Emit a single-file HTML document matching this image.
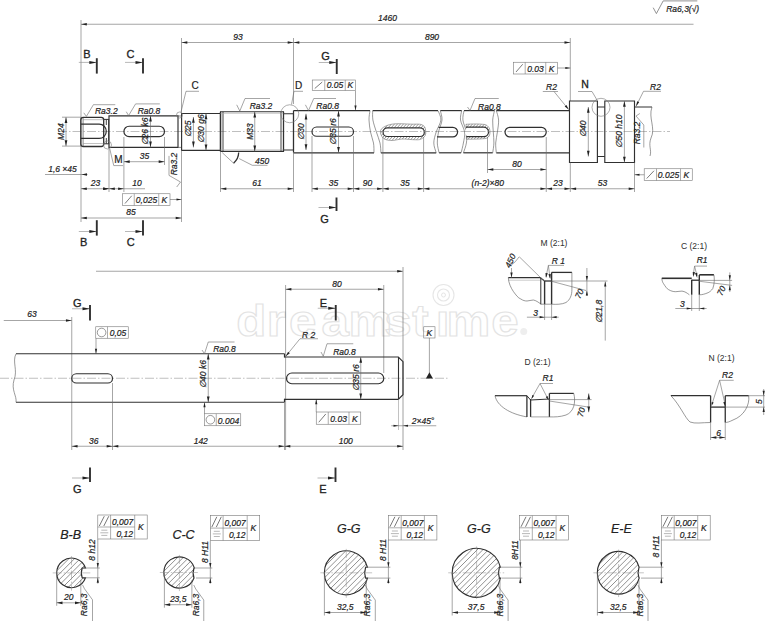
<!DOCTYPE html>
<html><head><meta charset="utf-8"><style>
html,body{margin:0;padding:0;background:#fff;}
svg{display:block;}
text{font-family:"Liberation Sans",sans-serif;}
</style></head><body>
<svg width="768" height="621" viewBox="0 0 768 621">
<rect width="768" height="621" fill="#fff"/>
<g font-family="Liberation Sans" font-weight="bold" font-size="44" fill="none" stroke="#e3e3e3" stroke-width="1.1"><text x="251.35000000000002" y="336" text-anchor="middle" transform="translate(251.35000000000002 336) scale(1.12 1) translate(-251.35000000000002 -336)">d</text><text x="276.25" y="336" text-anchor="middle" transform="translate(276.25 336) scale(1.12 1) translate(-276.25 -336)">r</text><text x="302.75" y="336" text-anchor="middle" transform="translate(302.75 336) scale(1.12 1) translate(-302.75 -336)">e</text><text x="335.225" y="336" text-anchor="middle" transform="translate(335.225 336) scale(1.12 1) translate(-335.225 -336)">a</text><text x="370.5" y="336" text-anchor="middle" transform="translate(370.5 336) scale(1.12 1) translate(-370.5 -336)">m</text><text x="398.0" y="336" text-anchor="middle" transform="translate(398.0 336) scale(1.12 1) translate(-398.0 -336)">s</text><text x="420.5" y="336" text-anchor="middle" transform="translate(420.5 336) scale(1.12 1) translate(-420.5 -336)">t</text><text x="442.5" y="336" text-anchor="middle" transform="translate(442.5 336) scale(1.12 1) translate(-442.5 -336)">ı</text><text x="468.375" y="336" text-anchor="middle" transform="translate(468.375 336) scale(1.12 1) translate(-468.375 -336)">m</text><text x="505.0" y="336" text-anchor="middle" transform="translate(505.0 336) scale(1.12 1) translate(-505.0 -336)">e</text></g>
<circle cx="443.5" cy="295" r="10.5" stroke="#e6e6e6" stroke-width="1.1" fill="none"/><circle cx="443.5" cy="295" r="6" stroke="#e6e6e6" stroke-width="1.1" fill="none"/><circle cx="443.5" cy="295" r="2" stroke="#e6e6e6" stroke-width="1" fill="none"/>
<circle cx="523.75" cy="331.5" r="3.5" fill="#eeeeee"/>
<path d="M653.2,7.7 L656.4,13.6 L663.2,0.9 L697.3,0.9" stroke="#777" stroke-width="0.8" fill="none" />
<text x="682.7" y="12" font-size="8.5" font-style="italic" text-anchor="middle" fill="#222" stroke="#222" stroke-width="0.2" font-weight="normal">Ra6,3(√)</text>
<line x1="81" y1="24.25" x2="693.5" y2="24.25" stroke="#6a6a6a" stroke-width="0.6" />
<polygon points="81.00,24.25 86.80,22.90 86.80,25.60" fill="#222"/>
<text x="387.5" y="21" font-size="8.5" font-style="italic" text-anchor="middle" fill="#222" stroke="#222" stroke-width="0.2" font-weight="normal">1460</text>
<line x1="81" y1="20" x2="81" y2="222" stroke="#6a6a6a" stroke-width="0.6" />
<line x1="181.5" y1="42.5" x2="293.5" y2="42.5" stroke="#6a6a6a" stroke-width="0.6" />
<polygon points="181.50,42.50 187.30,41.15 187.30,43.85" fill="#222"/>
<polygon points="293.50,42.50 287.70,43.85 287.70,41.15" fill="#222"/>
<text x="238" y="40" font-size="8.5" font-style="italic" text-anchor="middle" fill="#222" stroke="#222" stroke-width="0.2" font-weight="normal">93</text>
<line x1="293.5" y1="42.5" x2="570.3" y2="42.5" stroke="#6a6a6a" stroke-width="0.6" />
<polygon points="293.50,42.50 299.30,41.15 299.30,43.85" fill="#222"/>
<polygon points="570.30,42.50 564.50,43.85 564.50,41.15" fill="#222"/>
<text x="432" y="40" font-size="8.5" font-style="italic" text-anchor="middle" fill="#222" stroke="#222" stroke-width="0.2" font-weight="normal">890</text>
<line x1="181.5" y1="38" x2="181.5" y2="113" stroke="#6a6a6a" stroke-width="0.6" />
<line x1="293.5" y1="38" x2="293.5" y2="104" stroke="#6a6a6a" stroke-width="0.6" />
<line x1="570.3" y1="38" x2="570.3" y2="101" stroke="#6a6a6a" stroke-width="0.6" />
<line x1="78.8" y1="62.4" x2="96.8" y2="62.4" stroke="#888" stroke-width="0.6" />
<polygon points="96.80,62.40 89.30,63.90 89.30,60.90" fill="#222"/>
<line x1="96.8" y1="58.2" x2="96.8" y2="73.6" stroke="#303030" stroke-width="1.9" />
<text x="86.8" y="57.6" font-size="11" font-style="normal" text-anchor="middle" fill="#222" stroke="#222" stroke-width="0.3" font-weight="normal">B</text>
<line x1="125" y1="62.4" x2="143" y2="62.4" stroke="#888" stroke-width="0.6" />
<polygon points="143.00,62.40 135.50,63.90 135.50,60.90" fill="#222"/>
<line x1="143" y1="58.2" x2="143" y2="73.6" stroke="#303030" stroke-width="1.9" />
<text x="130.6" y="57.6" font-size="11" font-style="normal" text-anchor="middle" fill="#222" stroke="#222" stroke-width="0.3" font-weight="normal">C</text>
<line x1="318.75" y1="62.5" x2="336.75" y2="62.5" stroke="#888" stroke-width="0.6" />
<polygon points="336.75,62.50 329.25,64.00 329.25,61.00" fill="#222"/>
<line x1="336.75" y1="59" x2="336.75" y2="74" stroke="#303030" stroke-width="1.9" />
<text x="325.5" y="60" font-size="11" font-style="normal" text-anchor="middle" fill="#222" stroke="#222" stroke-width="0.3" font-weight="normal">G</text>
<line x1="78.8" y1="231.5" x2="96.8" y2="231.5" stroke="#888" stroke-width="0.6" />
<polygon points="96.80,231.50 89.30,233.00 89.30,230.00" fill="#222"/>
<line x1="96.8" y1="220.2" x2="96.8" y2="235.6" stroke="#303030" stroke-width="1.9" />
<text x="83.75" y="246.3" font-size="11" font-style="normal" text-anchor="middle" fill="#222" stroke="#222" stroke-width="0.3" font-weight="normal">B</text>
<line x1="125" y1="231.5" x2="143" y2="231.5" stroke="#888" stroke-width="0.6" />
<polygon points="143.00,231.50 135.50,233.00 135.50,230.00" fill="#222"/>
<line x1="143" y1="220.2" x2="143" y2="235.6" stroke="#303030" stroke-width="1.9" />
<text x="130.75" y="246.3" font-size="11" font-style="normal" text-anchor="middle" fill="#222" stroke="#222" stroke-width="0.3" font-weight="normal">C</text>
<line x1="318.5" y1="207.5" x2="336.5" y2="207.5" stroke="#888" stroke-width="0.6" />
<polygon points="336.50,207.50 329.00,209.00 329.00,206.00" fill="#222"/>
<line x1="336.5" y1="197.5" x2="336.5" y2="211" stroke="#303030" stroke-width="1.9" />
<text x="324.5" y="223" font-size="11" font-style="normal" text-anchor="middle" fill="#222" stroke="#222" stroke-width="0.3" font-weight="normal">G</text>
<line x1="58" y1="131.5" x2="670" y2="131.5" stroke="#8a8a8a" stroke-width="0.55" stroke-dasharray="9 2 1.5 2"/>
<rect x="80.8" y="117.4" width="22.90" height="29.10" rx="2.5" stroke="#303030" stroke-width="1.3" fill="none"/>
<line x1="83.1" y1="118" x2="83.1" y2="146" stroke="#555" stroke-width="0.7" />
<line x1="83.1" y1="119.7" x2="103.5" y2="119.7" stroke="#999" stroke-width="0.6" />
<line x1="83.1" y1="143.5" x2="103.5" y2="143.5" stroke="#999" stroke-width="0.6" />
<path d="M80.8,124.2 L99.2,124.2 A7.1,7.1 0 0 1 99.2,138.4 L80.8,138.4" stroke="#303030" stroke-width="1.2" fill="none" />
<line x1="103.7" y1="119.4" x2="109.2" y2="119.4" stroke="#303030" stroke-width="1.0" />
<line x1="103.7" y1="143.8" x2="109.2" y2="143.8" stroke="#303030" stroke-width="1.0" />
<line x1="106.3" y1="119.4" x2="106.3" y2="125" stroke="#303030" stroke-width="0.9" />
<line x1="106.3" y1="138" x2="106.3" y2="143.8" stroke="#303030" stroke-width="0.9" />
<line x1="108.6" y1="119.4" x2="108.6" y2="143.8" stroke="#303030" stroke-width="0.9" />
<path d="M109,115.8 L178,115.8 L178,147.4 L109,147.4 Z" stroke="#303030" stroke-width="1.15" fill="none" />
<path d="M178,116 L181.5,116 M178,147.4 L181.5,147.4" stroke="#555" stroke-width="0.7" fill="none" />
<path d="M181.6,113.5 L220.5,113.5 L220.5,150.3 L181.6,150.3 Z" stroke="#303030" stroke-width="1.15" fill="none" />
<path d="M220.5,111.8 L283.5,111.8 L283.5,151.4 L220.5,151.4 Z" stroke="#303030" stroke-width="1.1" fill="none" />
<line x1="220.5" y1="111.8" x2="220.5" y2="151.4" stroke="#303030" stroke-width="1.3" />
<line x1="223" y1="111.8" x2="223" y2="151.4" stroke="#303030" stroke-width="0.9" />
<line x1="281" y1="111.8" x2="281" y2="151.4" stroke="#303030" stroke-width="0.9" />
<line x1="283.5" y1="111.8" x2="283.5" y2="151.4" stroke="#303030" stroke-width="1.2" />
<line x1="220.5" y1="113.5" x2="283.5" y2="113.5" stroke="#aaa" stroke-width="0.5" />
<line x1="220.5" y1="149.7" x2="283.5" y2="149.7" stroke="#aaa" stroke-width="0.5" />
<path d="M283.5,113.75 L293.5,113.75 L293.5,150 L283.5,150" stroke="#303030" stroke-width="1.1" fill="none" />
<line x1="293.5" y1="110.6" x2="293.5" y2="152.6" stroke="#303030" stroke-width="1.2" />
<line x1="293.5" y1="110.6" x2="370" y2="110.6" stroke="#303030" stroke-width="1.2" />
<line x1="372.7" y1="110.6" x2="438" y2="110.6" stroke="#303030" stroke-width="1.2" />
<line x1="440.3" y1="110.6" x2="461.7" y2="110.6" stroke="#303030" stroke-width="1.2" />
<line x1="464" y1="110.6" x2="494.5" y2="110.6" stroke="#303030" stroke-width="1.2" />
<line x1="496.3" y1="110.6" x2="569.5" y2="110.6" stroke="#303030" stroke-width="1.2" />
<line x1="293.5" y1="152.8" x2="374" y2="152.8" stroke="#303030" stroke-width="1.2" />
<line x1="380.9" y1="152.8" x2="436.2" y2="152.8" stroke="#303030" stroke-width="1.2" />
<line x1="439.1" y1="152.8" x2="461.1" y2="152.8" stroke="#303030" stroke-width="1.2" />
<line x1="463.4" y1="152.8" x2="492.7" y2="152.8" stroke="#303030" stroke-width="1.2" />
<line x1="496.3" y1="152.8" x2="569.5" y2="152.8" stroke="#303030" stroke-width="1.2" />
<path d="M370.0,110.6 C369.8,112.2 368.9,116.4 369.0,120.0 C369.1,123.6 369.8,128.2 370.5,132.0 C371.2,135.8 372.9,139.5 373.5,143.0 C374.1,146.5 373.9,151.2 374.0,152.8" stroke="#555" stroke-width="0.6" fill="none" />
<path d="M372.7,110.6 C372.7,112.2 372.3,116.4 372.9,120.0 C373.5,123.6 375.2,128.2 376.4,132.0 C377.6,135.8 379.2,139.5 380.0,143.0 C380.8,146.5 380.8,151.2 380.9,152.8" stroke="#555" stroke-width="0.6" fill="none" />
<path d="M438.0,110.6 C438.5,112.2 441.2,116.4 440.9,120.0 C440.6,123.6 437.4,128.2 436.2,132.0 C435.0,135.8 433.8,139.5 433.8,143.0 C433.8,146.5 435.8,151.2 436.2,152.8" stroke="#555" stroke-width="0.6" fill="none" />
<path d="M440.3,110.6 C440.6,112.2 442.3,116.4 442.0,120.0 C441.7,123.6 439.3,128.2 438.5,132.0 C437.7,135.8 437.2,139.5 437.3,143.0 C437.4,146.5 438.8,151.2 439.1,152.8" stroke="#555" stroke-width="0.6" fill="none" />
<path d="M461.7,110.6 C461.5,112.2 460.0,116.4 460.5,120.0 C461.0,123.6 464.1,128.2 464.6,132.0 C465.1,135.8 464.0,139.5 463.4,143.0 C462.8,146.5 461.5,151.2 461.1,152.8" stroke="#555" stroke-width="0.6" fill="none" />
<path d="M464.0,110.6 C463.8,112.2 462.5,116.4 462.9,120.0 C463.3,123.6 465.8,128.2 466.4,132.0 C467.0,135.8 466.9,139.5 466.4,143.0 C465.9,146.5 463.9,151.2 463.4,152.8" stroke="#555" stroke-width="0.6" fill="none" />
<path d="M494.5,110.6 C494.2,112.2 492.9,116.4 492.7,120.0 C492.5,123.6 493.1,128.2 493.3,132.0 C493.5,135.8 494.0,139.5 493.9,143.0 C493.8,146.5 492.9,151.2 492.7,152.8" stroke="#555" stroke-width="0.6" fill="none" />
<path d="M496.3,110.6 C496.7,112.2 498.4,116.4 498.6,120.0 C498.8,123.6 497.9,128.2 497.4,132.0 C496.9,135.8 495.9,139.5 495.7,143.0 C495.5,146.5 496.2,151.2 496.3,152.8" stroke="#555" stroke-width="0.6" fill="none" />
<path d="M569.5,101 L597.4,101 L597.4,162.5 L569.5,162.5 Z" stroke="#303030" stroke-width="1.15" fill="none" />
<path d="M597.4,107 L604.8,107 M597.4,156.5 L604.8,156.5" stroke="#303030" stroke-width="1.15" fill="none" />
<path d="M604.8,101 L634.5,101 L634.5,162.5 L604.8,162.5 Z" stroke="#303030" stroke-width="1.15" fill="none" />
<line x1="634.5" y1="107" x2="652" y2="107" stroke="#303030" stroke-width="1.0" />
<path d="M652,107 C648,118 656,128 651,138 C648,146 652,150 650,156" stroke="#555" stroke-width="0.6" fill="none" />
<rect x="123.9" y="126.25" width="40.60" height="10.45" rx="5.224999999999994" stroke="#303030" stroke-width="1.2" fill="none"/>
<rect x="312" y="127" width="41.50" height="9.25" rx="4.625" stroke="#303030" stroke-width="1.2" fill="none"/>
<path d="M438.5,127.3 L452.8,127.3 A4.8,4.8 0 0 1 452.8,136.9 L437,136.9" stroke="#303030" stroke-width="1.2" fill="none" />
<rect x="505" y="127.3" width="41.25" height="9.60" rx="4.800000000000004" stroke="#303030" stroke-width="1.2" fill="none"/>
<clipPath id="bl1"><path d="M380.6,130.3 C383,126 390,124 395.9,123.75 C403,123.4 410,124.5 417.8,124.1 C422,124 425,126 425.4,129 C426,133 426,135 424.3,136.8 C422,139 420,139.8 417.8,139.8 C410,139.8 405,138.8 401.7,139.1 C397,139.5 395,140.5 392.2,140.5 C388,140.5 385,139.8 383.5,138.3 C381,136 380,133 380.6,130.3 Z"/></clipPath>
<path d="M340,145 L362,120 M343,145 L365,120 M346,145 L368,120 M349,145 L371,120 M352,145 L374,120 M355,145 L377,120 M358,145 L380,120 M361,145 L383,120 M364,145 L386,120 M367,145 L389,120 M370,145 L392,120 M373,145 L395,120 M376,145 L398,120 M379,145 L401,120 M382,145 L404,120 M385,145 L407,120 M388,145 L410,120 M391,145 L413,120 M394,145 L416,120 M397,145 L419,120 M400,145 L422,120 M403,145 L425,120 M406,145 L428,120 M409,145 L431,120 M412,145 L434,120 M415,145 L437,120 M418,145 L440,120 M421,145 L443,120 M424,145 L446,120 M427,145 L449,120 M430,145 L452,120 M433,145 L455,120 M436,145 L458,120 M439,145 L461,120 M442,145 L464,120 M445,145 L467,120 M448,145 L470,120 M451,145 L473,120 M454,145 L476,120 M457,145 L479,120 M460,145 L482,120 M463,145 L485,120 M466,145 L488,120 M469,145 L491,120 M472,145 L494,120 M475,145 L497,120 M478,145 L500,120 M481,145 L503,120 M484,145 L506,120 M487,145 L509,120 M490,145 L512,120 M493,145 L515,120 M496,145 L518,120 M499,145 L521,120 M502,145 L524,120 M505,145 L527,120 M508,145 L530,120 M511,145 L533,120 M514,145 L536,120 M517,145 L539,120" stroke="#8a8a8a" stroke-width="0.9" clip-path="url(#bl1)"/>
<path d="M380.6,130.3 C383,126 390,124 395.9,123.75 C403,123.4 410,124.5 417.8,124.1 C422,124 425,126 425.4,129 C426,133 426,135 424.3,136.8 C422,139 420,139.8 417.8,139.8 C410,139.8 405,138.8 401.7,139.1 C397,139.5 395,140.5 392.2,140.5 C388,140.5 385,139.8 383.5,138.3 C381,136 380,133 380.6,130.3 Z" stroke="#777" stroke-width="0.6" fill="none" />
<clipPath id="bl2"><path d="M466,124.3 C472,123.8 480,123.8 485,124.5 C489,126 490,129 490,132 C490,135 489,138 485,138.6 C478,139.3 472,139.2 466.4,139.2 Z"/></clipPath>
<path d="M340,145 L362,120 M343,145 L365,120 M346,145 L368,120 M349,145 L371,120 M352,145 L374,120 M355,145 L377,120 M358,145 L380,120 M361,145 L383,120 M364,145 L386,120 M367,145 L389,120 M370,145 L392,120 M373,145 L395,120 M376,145 L398,120 M379,145 L401,120 M382,145 L404,120 M385,145 L407,120 M388,145 L410,120 M391,145 L413,120 M394,145 L416,120 M397,145 L419,120 M400,145 L422,120 M403,145 L425,120 M406,145 L428,120 M409,145 L431,120 M412,145 L434,120 M415,145 L437,120 M418,145 L440,120 M421,145 L443,120 M424,145 L446,120 M427,145 L449,120 M430,145 L452,120 M433,145 L455,120 M436,145 L458,120 M439,145 L461,120 M442,145 L464,120 M445,145 L467,120 M448,145 L470,120 M451,145 L473,120 M454,145 L476,120 M457,145 L479,120 M460,145 L482,120 M463,145 L485,120 M466,145 L488,120 M469,145 L491,120 M472,145 L494,120 M475,145 L497,120 M478,145 L500,120 M481,145 L503,120 M484,145 L506,120 M487,145 L509,120 M490,145 L512,120 M493,145 L515,120 M496,145 L518,120 M499,145 L521,120 M502,145 L524,120 M505,145 L527,120 M508,145 L530,120 M511,145 L533,120 M514,145 L536,120 M517,145 L539,120" stroke="#8a8a8a" stroke-width="0.9" clip-path="url(#bl2)"/>
<path d="M466,124.3 C472,123.8 480,123.8 485,124.5 C489,126 490,129 490,132 C490,135 489,138 485,138.6 C478,139.3 472,139.2 466.4,139.2 Z" stroke="#777" stroke-width="0.6" fill="none" />
<rect x="383.1" y="127.8" width="41.2" height="8.8" rx="4.4" fill="#fff"/>
<rect x="465" y="127.2" width="23.5" height="9.4" rx="4.7" fill="#fff"/>
<rect x="383.1" y="127.8" width="41.20" height="8.70" rx="4.350000000000001" stroke="#303030" stroke-width="1.2" fill="none"/>
<path d="M466,127.2 L483.8,127.2 A4.7,4.7 0 0 1 483.8,136.6 L466.4,136.6" stroke="#303030" stroke-width="1.2" fill="none" />
<line x1="380" y1="131.5" x2="430" y2="131.5" stroke="#8a8a8a" stroke-width="0.55" stroke-dasharray="9 2 1.5 2"/>
<line x1="462" y1="131.5" x2="495" y2="131.5" stroke="#8a8a8a" stroke-width="0.55" stroke-dasharray="9 2 1.5 2"/>
<circle cx="179.5" cy="115" r="3" stroke="#777" stroke-width="0.6" fill="none"/>
<circle cx="289.75" cy="113.75" r="9" stroke="#777" stroke-width="0.6" fill="none"/>
<circle cx="107.5" cy="145" r="4" stroke="#777" stroke-width="0.6" fill="none"/>
<circle cx="601" cy="107.3" r="9" stroke="#777" stroke-width="0.6" fill="none"/>
<text x="195" y="88.8" font-size="10" font-style="normal" text-anchor="middle" fill="#222" stroke="#222" stroke-width="0.2" font-weight="normal">C</text>
<line x1="186" y1="91.3" x2="199" y2="91.3" stroke="#6a6a6a" stroke-width="0.6" />
<line x1="186" y1="91.3" x2="181" y2="112" stroke="#6a6a6a" stroke-width="0.6" />
<text x="298.5" y="88.8" font-size="10" font-style="normal" text-anchor="middle" fill="#222" stroke="#222" stroke-width="0.2" font-weight="normal">D</text>
<line x1="294" y1="91.3" x2="303" y2="91.3" stroke="#6a6a6a" stroke-width="0.6" />
<line x1="294" y1="91.3" x2="291.5" y2="104.5" stroke="#6a6a6a" stroke-width="0.6" />
<text x="585" y="87.9" font-size="10.5" font-style="normal" text-anchor="middle" fill="#222" stroke="#222" stroke-width="0.3" font-weight="normal">N</text>
<line x1="578" y1="91.5" x2="592" y2="91.5" stroke="#6a6a6a" stroke-width="0.6" />
<line x1="592" y1="91.5" x2="597" y2="100" stroke="#6a6a6a" stroke-width="0.6" />
<text x="118.5" y="162.6" font-size="10" font-style="normal" text-anchor="middle" fill="#222" stroke="#222" stroke-width="0.2" font-weight="normal">M</text>
<line x1="109.8" y1="149" x2="113.75" y2="165.6" stroke="#6a6a6a" stroke-width="0.6" />
<line x1="113.75" y1="165.6" x2="123.1" y2="165.6" stroke="#6a6a6a" stroke-width="0.6" />
<path d="M83.75,112.8 L86.4,116.4 L93.4,104.7 L115.3,104.7" stroke="#6a6a6a" stroke-width="0.6" fill="none" />
<text x="106.3" y="114" font-size="8.5" font-style="italic" text-anchor="middle" fill="#222" stroke="#222" stroke-width="0.2" font-weight="normal">Ra3.2</text>
<path d="M126.25,111.7 L128.6,115.6 L135.6,103.9 L159.8,103.9" stroke="#6a6a6a" stroke-width="0.6" fill="none" />
<text x="149" y="114" font-size="8.5" font-style="italic" text-anchor="middle" fill="#222" stroke="#222" stroke-width="0.2" font-weight="normal">Ra0.8</text>
<path d="M236.7,104.8 L239.8,111 L245,98.5 L270,98.5" stroke="#6a6a6a" stroke-width="0.6" fill="none" />
<text x="261" y="108.8" font-size="8.5" font-style="italic" text-anchor="middle" fill="#222" stroke="#222" stroke-width="0.2" font-weight="normal">Ra3.2</text>
<path d="M305.4,104.8 L308.5,110.6 L313.75,98.5 L336,98.5" stroke="#6a6a6a" stroke-width="0.6" fill="none" />
<text x="327.7" y="108.8" font-size="8.5" font-style="italic" text-anchor="middle" fill="#222" stroke="#222" stroke-width="0.2" font-weight="normal">Ra0.8</text>
<path d="M467.5,107 L470,110.5 L475,98.5 L498.75,98.5" stroke="#6a6a6a" stroke-width="0.6" fill="none" />
<text x="489.4" y="109.5" font-size="8.5" font-style="italic" text-anchor="middle" fill="#222" stroke="#222" stroke-width="0.2" font-weight="normal">Ra0.8</text>
<path d="M169,155.9 L169,175.4 L180.5,182 L176.7,187" stroke="#6a6a6a" stroke-width="0.6" fill="none" />
<text x="176.8" y="164" font-size="8.5" font-style="italic" text-anchor="middle" fill="#222" stroke="#222" stroke-width="0.2" font-weight="normal" transform="rotate(-90 176.8 164)">Ra3.2</text>
<path d="M643.8,147.5 L643.8,125 L636,116 L639.8,113.5" stroke="#6a6a6a" stroke-width="0.6" fill="none" />
<text x="640" y="133" font-size="8.5" font-style="italic" text-anchor="middle" fill="#222" stroke="#222" stroke-width="0.2" font-weight="normal" transform="rotate(-90 640 133)">Ra3.2</text>
<line x1="222.2" y1="152.6" x2="233.6" y2="163.2" stroke="#6a6a6a" stroke-width="0.6" />
<path d="M233.6,163.2 Q238.5,159 238.7,152.6" stroke="#333" stroke-width="1.3" fill="none" />
<path d="M239.2,158.6 L252.3,165.3 L267.5,165.3" stroke="#6a6a6a" stroke-width="0.6" fill="none" />
<text x="262.2" y="163.6" font-size="8.5" font-style="italic" text-anchor="middle" fill="#222" stroke="#222" stroke-width="0.2" font-weight="normal">450</text>
<text x="62.5" y="172" font-size="8.5" font-style="italic" text-anchor="middle" fill="#222" stroke="#222" stroke-width="0.2" font-weight="normal">1,6 ×45</text>
<line x1="45" y1="174.5" x2="87.5" y2="174.5" stroke="#6a6a6a" stroke-width="0.6" />
<polygon points="81.50,174.50 87.00,173.30 87.00,175.70" fill="#222"/>
<line x1="66" y1="117.2" x2="66" y2="146.1" stroke="#6a6a6a" stroke-width="0.6" />
<polygon points="66.00,117.20 67.35,123.00 64.65,123.00" fill="#222"/>
<polygon points="66.00,146.10 64.65,140.30 67.35,140.30" fill="#222"/>
<text x="64" y="131.6" font-size="8.5" font-style="italic" text-anchor="middle" fill="#222" stroke="#222" stroke-width="0.2" font-weight="normal" transform="rotate(-90 64 131.6)">M24</text>
<line x1="62" y1="117.2" x2="81" y2="117.2" stroke="#6a6a6a" stroke-width="0.6" />
<line x1="62" y1="146.1" x2="81" y2="146.1" stroke="#6a6a6a" stroke-width="0.6" />
<line x1="150.5" y1="115.6" x2="150.5" y2="147.3" stroke="#6a6a6a" stroke-width="0.6" />
<polygon points="150.50,115.60 151.85,121.40 149.15,121.40" fill="#222"/>
<polygon points="150.50,147.30 149.15,141.50 151.85,141.50" fill="#222"/>
<text x="148" y="131.5" font-size="8.5" font-style="italic" text-anchor="middle" fill="#222" stroke="#222" stroke-width="0.2" font-weight="normal" transform="rotate(-90 148 131.5)">∅26 k6</text>
<line x1="193.4" y1="117" x2="193.4" y2="147.4" stroke="#6a6a6a" stroke-width="0.6" />
<polygon points="193.40,117.00 194.75,122.80 192.05,122.80" fill="#222"/>
<polygon points="193.40,147.40 192.05,141.60 194.75,141.60" fill="#222"/>
<text x="191" y="128.8" font-size="8.5" font-style="italic" text-anchor="middle" fill="#222" stroke="#222" stroke-width="0.2" font-weight="normal" transform="rotate(-90 191 128.8)">∅25</text>
<line x1="206" y1="113.5" x2="206" y2="150.3" stroke="#6a6a6a" stroke-width="0.6" />
<polygon points="206.00,113.50 207.35,119.30 204.65,119.30" fill="#222"/>
<polygon points="206.00,150.30 204.65,144.50 207.35,144.50" fill="#222"/>
<text x="203.5" y="128.5" font-size="8.5" font-style="italic" text-anchor="middle" fill="#222" stroke="#222" stroke-width="0.2" font-weight="normal" transform="rotate(-90 203.5 128.5)">∅30  g6</text>
<line x1="254.75" y1="111.8" x2="254.75" y2="151.4" stroke="#6a6a6a" stroke-width="0.6" />
<polygon points="254.75,111.80 256.10,117.60 253.40,117.60" fill="#222"/>
<polygon points="254.75,151.40 253.40,145.60 256.10,145.60" fill="#222"/>
<text x="252.5" y="131.5" font-size="8.5" font-style="italic" text-anchor="middle" fill="#222" stroke="#222" stroke-width="0.2" font-weight="normal" transform="rotate(-90 252.5 131.5)">M33</text>
<line x1="306" y1="113.75" x2="306" y2="150" stroke="#6a6a6a" stroke-width="0.6" />
<polygon points="306.00,113.75 307.35,119.55 304.65,119.55" fill="#222"/>
<polygon points="306.00,150.00 304.65,144.20 307.35,144.20" fill="#222"/>
<text x="303.5" y="131.5" font-size="8.5" font-style="italic" text-anchor="middle" fill="#222" stroke="#222" stroke-width="0.2" font-weight="normal" transform="rotate(-90 303.5 131.5)">∅30</text>
<line x1="338.5" y1="110.6" x2="338.5" y2="152.8" stroke="#6a6a6a" stroke-width="0.6" />
<polygon points="338.50,110.60 339.85,116.40 337.15,116.40" fill="#222"/>
<polygon points="338.50,152.80 337.15,147.00 339.85,147.00" fill="#222"/>
<text x="336" y="131.5" font-size="8.5" font-style="italic" text-anchor="middle" fill="#222" stroke="#222" stroke-width="0.2" font-weight="normal" transform="rotate(-90 336 131.5)">∅35 r6</text>
<line x1="588.3" y1="107" x2="588.3" y2="156.5" stroke="#6a6a6a" stroke-width="0.6" />
<polygon points="588.30,107.00 589.65,112.80 586.95,112.80" fill="#222"/>
<polygon points="588.30,156.50 586.95,150.70 589.65,150.70" fill="#222"/>
<text x="586" y="128.7" font-size="8.5" font-style="italic" text-anchor="middle" fill="#222" stroke="#222" stroke-width="0.2" font-weight="normal" transform="rotate(-90 586 128.7)">∅40</text>
<line x1="624.4" y1="101" x2="624.4" y2="162.5" stroke="#6a6a6a" stroke-width="0.6" />
<polygon points="624.40,101.00 625.75,106.80 623.05,106.80" fill="#222"/>
<polygon points="624.40,162.50 623.05,156.70 625.75,156.70" fill="#222"/>
<text x="622" y="131" font-size="8.5" font-style="italic" text-anchor="middle" fill="#222" stroke="#222" stroke-width="0.2" font-weight="normal" transform="rotate(-90 622 131)">∅50 h10</text>
<rect x="312.25" y="80" width="43.25" height="10.50" rx="0" stroke="#777" stroke-width="0.6" fill="none"/>
<line x1="324.75" y1="80" x2="324.75" y2="90.5" stroke="#777" stroke-width="0.6" />
<line x1="345.25" y1="80" x2="345.25" y2="90.5" stroke="#777" stroke-width="0.6" />
<line x1="322.25" y1="82" x2="314.75" y2="88.5" stroke="#444" stroke-width="0.7" />
<text x="335.0" y="88.2" font-size="8.5" font-style="italic" text-anchor="middle" fill="#222" stroke="#222" stroke-width="0.2" font-weight="normal">0.05</text>
<text x="350.375" y="88.2" font-size="8.5" font-style="italic" text-anchor="middle" fill="#222" stroke="#222" stroke-width="0.2" font-weight="normal">K</text>
<line x1="355.5" y1="90.5" x2="355.5" y2="110" stroke="#6a6a6a" stroke-width="0.6" />
<polygon points="355.50,110.60 354.40,105.60 356.60,105.60" fill="#222"/>
<rect x="513.5" y="62.25" width="44.00" height="11.75" rx="0" stroke="#777" stroke-width="0.6" fill="none"/>
<line x1="525.2" y1="62.25" x2="525.2" y2="74" stroke="#777" stroke-width="0.6" />
<line x1="545.75" y1="62.25" x2="545.75" y2="74" stroke="#777" stroke-width="0.6" />
<line x1="522.7" y1="64.25" x2="516.0" y2="72" stroke="#444" stroke-width="0.7" />
<text x="535.475" y="71.7" font-size="8.5" font-style="italic" text-anchor="middle" fill="#222" stroke="#222" stroke-width="0.2" font-weight="normal">0.03</text>
<text x="551.625" y="71.7" font-size="8.5" font-style="italic" text-anchor="middle" fill="#222" stroke="#222" stroke-width="0.2" font-weight="normal">K</text>
<line x1="557.5" y1="68" x2="570.3" y2="68" stroke="#6a6a6a" stroke-width="0.6" />
<polygon points="570.30,68.00 565.30,69.10 565.30,66.90" fill="#222"/>
<rect x="644.2" y="168.75" width="48.05" height="11.75" rx="0" stroke="#777" stroke-width="0.6" fill="none"/>
<line x1="656.5" y1="168.75" x2="656.5" y2="180.5" stroke="#777" stroke-width="0.6" />
<line x1="680.5" y1="168.75" x2="680.5" y2="180.5" stroke="#777" stroke-width="0.6" />
<line x1="654.0" y1="170.75" x2="646.7" y2="178.5" stroke="#444" stroke-width="0.7" />
<text x="668.5" y="178.2" font-size="8.5" font-style="italic" text-anchor="middle" fill="#222" stroke="#222" stroke-width="0.2" font-weight="normal">0.025</text>
<text x="686.375" y="178.2" font-size="8.5" font-style="italic" text-anchor="middle" fill="#222" stroke="#222" stroke-width="0.2" font-weight="normal">K</text>
<line x1="644.2" y1="174.75" x2="634.5" y2="174.75" stroke="#6a6a6a" stroke-width="0.6" />
<polygon points="634.50,174.75 639.50,173.65 639.50,175.85" fill="#222"/>
<rect x="122.5" y="193.75" width="47.50" height="11.75" rx="0" stroke="#777" stroke-width="0.6" fill="none"/>
<line x1="134.25" y1="193.75" x2="134.25" y2="205.5" stroke="#777" stroke-width="0.6" />
<line x1="158.75" y1="193.75" x2="158.75" y2="205.5" stroke="#777" stroke-width="0.6" />
<line x1="131.75" y1="195.75" x2="125.0" y2="203.5" stroke="#444" stroke-width="0.7" />
<text x="146.5" y="203.2" font-size="8.5" font-style="italic" text-anchor="middle" fill="#222" stroke="#222" stroke-width="0.2" font-weight="normal">0,025</text>
<text x="164.375" y="203.2" font-size="8.5" font-style="italic" text-anchor="middle" fill="#222" stroke="#222" stroke-width="0.2" font-weight="normal">K</text>
<line x1="170" y1="199.5" x2="181.5" y2="199.5" stroke="#6a6a6a" stroke-width="0.6" />
<polygon points="181.50,199.50 176.50,200.60 176.50,198.40" fill="#222"/>
<text x="551.5" y="90.3" font-size="8.5" font-style="italic" text-anchor="middle" fill="#222" stroke="#222" stroke-width="0.2" font-weight="normal">R2</text>
<line x1="542.8" y1="91.5" x2="558" y2="91.5" stroke="#6a6a6a" stroke-width="0.6" />
<line x1="554" y1="91.5" x2="568.7" y2="109.6" stroke="#6a6a6a" stroke-width="0.6" />
<polygon points="568.70,109.60 564.70,106.41 566.41,105.02" fill="#222"/>
<text x="655.5" y="90.3" font-size="8.5" font-style="italic" text-anchor="middle" fill="#222" stroke="#222" stroke-width="0.2" font-weight="normal">R2</text>
<line x1="643.5" y1="91.3" x2="661" y2="91.3" stroke="#6a6a6a" stroke-width="0.6" />
<line x1="643.5" y1="91.3" x2="636" y2="106.25" stroke="#6a6a6a" stroke-width="0.6" />
<polygon points="636.00,106.25 637.20,101.27 639.18,102.24" fill="#222"/>
<line x1="109" y1="144" x2="109" y2="192" stroke="#6a6a6a" stroke-width="0.6" />
<line x1="123.9" y1="137" x2="123.9" y2="192" stroke="#6a6a6a" stroke-width="0.6" />
<line x1="164.5" y1="137" x2="164.5" y2="165" stroke="#6a6a6a" stroke-width="0.6" />
<line x1="220.5" y1="151" x2="220.5" y2="192" stroke="#6a6a6a" stroke-width="0.6" />
<line x1="293.5" y1="152.6" x2="293.5" y2="192" stroke="#6a6a6a" stroke-width="0.6" />
<line x1="312" y1="136" x2="312" y2="192" stroke="#6a6a6a" stroke-width="0.6" />
<line x1="353.5" y1="136" x2="353.5" y2="192" stroke="#6a6a6a" stroke-width="0.6" />
<line x1="382.9" y1="137" x2="382.9" y2="192" stroke="#6a6a6a" stroke-width="0.6" />
<line x1="423.6" y1="137" x2="423.6" y2="192" stroke="#6a6a6a" stroke-width="0.6" />
<line x1="487.5" y1="137" x2="487.5" y2="173" stroke="#6a6a6a" stroke-width="0.6" />
<line x1="546.25" y1="137" x2="546.25" y2="192" stroke="#6a6a6a" stroke-width="0.6" />
<line x1="570.3" y1="162.5" x2="570.3" y2="192" stroke="#6a6a6a" stroke-width="0.6" />
<line x1="634.5" y1="162.5" x2="634.5" y2="192" stroke="#6a6a6a" stroke-width="0.6" />
<line x1="181.5" y1="150" x2="181.5" y2="222" stroke="#6a6a6a" stroke-width="0.6" />
<line x1="81" y1="188.75" x2="109" y2="188.75" stroke="#6a6a6a" stroke-width="0.6" />
<polygon points="81.00,188.75 86.80,187.40 86.80,190.10" fill="#222"/>
<polygon points="109.00,188.75 103.20,190.10 103.20,187.40" fill="#222"/>
<text x="95.5" y="186" font-size="8.5" font-style="italic" text-anchor="middle" fill="#222" stroke="#222" stroke-width="0.2" font-weight="normal">23</text>
<line x1="109" y1="188.75" x2="145" y2="188.75" stroke="#6a6a6a" stroke-width="0.6" />
<polygon points="109.00,188.75 114.80,187.40 114.80,190.10" fill="#222"/>
<polygon points="123.90,188.75 118.10,190.10 118.10,187.40" fill="#222"/>
<polygon points="109.00,188.75 103.20,190.10 103.20,187.40" fill="#222"/>
<text x="137" y="186" font-size="8.5" font-style="italic" text-anchor="middle" fill="#222" stroke="#222" stroke-width="0.2" font-weight="normal">10</text>
<line x1="220.5" y1="188.75" x2="293.5" y2="188.75" stroke="#6a6a6a" stroke-width="0.6" />
<polygon points="220.50,188.75 226.30,187.40 226.30,190.10" fill="#222"/>
<polygon points="293.50,188.75 287.70,190.10 287.70,187.40" fill="#222"/>
<text x="257" y="186" font-size="8.5" font-style="italic" text-anchor="middle" fill="#222" stroke="#222" stroke-width="0.2" font-weight="normal">61</text>
<line x1="312" y1="188.75" x2="353.5" y2="188.75" stroke="#6a6a6a" stroke-width="0.6" />
<polygon points="312.00,188.75 317.80,187.40 317.80,190.10" fill="#222"/>
<polygon points="353.50,188.75 347.70,190.10 347.70,187.40" fill="#222"/>
<text x="333.5" y="186" font-size="8.5" font-style="italic" text-anchor="middle" fill="#222" stroke="#222" stroke-width="0.2" font-weight="normal">35</text>
<line x1="353.5" y1="188.75" x2="382.9" y2="188.75" stroke="#6a6a6a" stroke-width="0.6" />
<polygon points="353.50,188.75 359.30,187.40 359.30,190.10" fill="#222"/>
<polygon points="382.90,188.75 377.10,190.10 377.10,187.40" fill="#222"/>
<text x="367.5" y="186" font-size="8.5" font-style="italic" text-anchor="middle" fill="#222" stroke="#222" stroke-width="0.2" font-weight="normal">90</text>
<line x1="382.9" y1="188.75" x2="423.6" y2="188.75" stroke="#6a6a6a" stroke-width="0.6" />
<polygon points="382.90,188.75 388.70,187.40 388.70,190.10" fill="#222"/>
<polygon points="423.60,188.75 417.80,190.10 417.80,187.40" fill="#222"/>
<text x="405" y="186" font-size="8.5" font-style="italic" text-anchor="middle" fill="#222" stroke="#222" stroke-width="0.2" font-weight="normal">35</text>
<line x1="423.6" y1="188.75" x2="546.25" y2="188.75" stroke="#6a6a6a" stroke-width="0.6" />
<polygon points="423.60,188.75 429.40,187.40 429.40,190.10" fill="#222"/>
<polygon points="546.25,188.75 540.45,190.10 540.45,187.40" fill="#222"/>
<text x="487.75" y="186" font-size="8.5" font-style="italic" text-anchor="middle" fill="#222" stroke="#222" stroke-width="0.2" font-weight="normal">(n-2)×80</text>
<line x1="546.25" y1="188.75" x2="570.3" y2="188.75" stroke="#6a6a6a" stroke-width="0.6" />
<polygon points="546.25,188.75 552.05,187.40 552.05,190.10" fill="#222"/>
<polygon points="570.30,188.75 564.50,190.10 564.50,187.40" fill="#222"/>
<text x="558" y="186" font-size="8.5" font-style="italic" text-anchor="middle" fill="#222" stroke="#222" stroke-width="0.2" font-weight="normal">23</text>
<line x1="570.3" y1="188.75" x2="634.5" y2="188.75" stroke="#6a6a6a" stroke-width="0.6" />
<polygon points="570.30,188.75 576.10,187.40 576.10,190.10" fill="#222"/>
<polygon points="634.50,188.75 628.70,190.10 628.70,187.40" fill="#222"/>
<text x="602.5" y="186" font-size="8.5" font-style="italic" text-anchor="middle" fill="#222" stroke="#222" stroke-width="0.2" font-weight="normal">53</text>
<line x1="487.5" y1="169.5" x2="546.25" y2="169.5" stroke="#6a6a6a" stroke-width="0.6" />
<polygon points="487.50,169.50 493.30,168.15 493.30,170.85" fill="#222"/>
<polygon points="546.25,169.50 540.45,170.85 540.45,168.15" fill="#222"/>
<text x="517" y="166.5" font-size="8.5" font-style="italic" text-anchor="middle" fill="#222" stroke="#222" stroke-width="0.2" font-weight="normal">80</text>
<line x1="123.9" y1="161.7" x2="164.5" y2="161.7" stroke="#6a6a6a" stroke-width="0.6" />
<polygon points="123.90,161.70 129.70,160.35 129.70,163.05" fill="#222"/>
<polygon points="164.50,161.70 158.70,163.05 158.70,160.35" fill="#222"/>
<text x="144.6" y="158.5" font-size="8.5" font-style="italic" text-anchor="middle" fill="#222" stroke="#222" stroke-width="0.2" font-weight="normal">35</text>
<line x1="81" y1="218" x2="181.5" y2="218" stroke="#6a6a6a" stroke-width="0.6" />
<polygon points="81.00,218.00 86.80,216.65 86.80,219.35" fill="#222"/>
<polygon points="181.50,218.00 175.70,219.35 175.70,216.65" fill="#222"/>
<text x="131" y="215" font-size="8.5" font-style="italic" text-anchor="middle" fill="#222" stroke="#222" stroke-width="0.2" font-weight="normal">85</text>
<line x1="96" y1="271.25" x2="403" y2="271.25" stroke="#6a6a6a" stroke-width="0.6" />
<polygon points="403.00,271.25 397.20,272.60 397.20,269.90" fill="#222"/>
<line x1="285.6" y1="289.25" x2="383.75" y2="289.25" stroke="#6a6a6a" stroke-width="0.6" />
<polygon points="285.60,289.25 291.40,287.90 291.40,290.60" fill="#222"/>
<polygon points="383.75,289.25 377.95,290.60 377.95,287.90" fill="#222"/>
<text x="337" y="287" font-size="8.5" font-style="italic" text-anchor="middle" fill="#222" stroke="#222" stroke-width="0.2" font-weight="normal">80</text>
<line x1="285.6" y1="285" x2="285.6" y2="450" stroke="#6a6a6a" stroke-width="0.6" />
<line x1="383.75" y1="285" x2="383.75" y2="373" stroke="#6a6a6a" stroke-width="0.6" />
<line x1="403" y1="267" x2="403" y2="450" stroke="#888" stroke-width="0.8" />
<line x1="3.75" y1="320.5" x2="71.75" y2="320.5" stroke="#6a6a6a" stroke-width="0.6" />
<polygon points="71.75,320.50 65.95,321.85 65.95,319.15" fill="#222"/>
<text x="31.9" y="317" font-size="8.5" font-style="italic" text-anchor="middle" fill="#222" stroke="#222" stroke-width="0.2" font-weight="normal">63</text>
<line x1="71.75" y1="317" x2="71.75" y2="450" stroke="#6a6a6a" stroke-width="0.6" />
<line x1="72" y1="308.75" x2="90" y2="308.75" stroke="#888" stroke-width="0.6" />
<polygon points="90.00,308.75 82.50,310.25 82.50,307.25" fill="#222"/>
<line x1="90" y1="305" x2="90" y2="320.5" stroke="#303030" stroke-width="1.9" />
<text x="77.25" y="307" font-size="11" font-style="normal" text-anchor="middle" fill="#222" stroke="#222" stroke-width="0.3" font-weight="normal">G</text>
<rect x="95.75" y="326.75" width="32.50" height="11.50" rx="0" stroke="#777" stroke-width="0.6" fill="none"/>
<line x1="107.5" y1="326.75" x2="107.5" y2="338.25" stroke="#777" stroke-width="0.6" />
<circle cx="101.6" cy="332.5" r="4.3" stroke="#555" stroke-width="0.6" fill="none"/>
<text x="118" y="336" font-size="8.5" font-style="italic" text-anchor="middle" fill="#222" stroke="#222" stroke-width="0.2" font-weight="normal">0,05</text>
<line x1="96" y1="338.25" x2="96" y2="353.5" stroke="#6a6a6a" stroke-width="0.6" />
<polygon points="96.00,353.75 94.90,348.75 97.10,348.75" fill="#222"/>
<line x1="0" y1="378.25" x2="447.5" y2="378.25" stroke="#8a8a8a" stroke-width="0.55" stroke-dasharray="9 2 1.5 2"/>
<line x1="16" y1="353.75" x2="284.5" y2="353.75" stroke="#303030" stroke-width="1.15" />
<line x1="16" y1="402.25" x2="284.5" y2="402.25" stroke="#303030" stroke-width="1.15" />
<path d="M16,353.75 C12,362 18,370 14,380 C11,390 17,396 16,402.25" stroke="#555" stroke-width="0.6" fill="none" />
<line x1="284.5" y1="353.75" x2="284.5" y2="357.5" stroke="#303030" stroke-width="1.2" />
<line x1="284.5" y1="398.75" x2="284.5" y2="402.25" stroke="#303030" stroke-width="1.2" />
<path d="M284.5,357 L398.3,357 L403,361.7 L403,394.7 L398.3,399.4 L284.5,399.4" stroke="#303030" stroke-width="1.15" fill="none" />
<line x1="398.5" y1="357" x2="398.5" y2="399.4" stroke="#303030" stroke-width="1.1" />
<line x1="398.5" y1="399.4" x2="398.5" y2="430" stroke="#999" stroke-width="0.6" />
<rect x="71.75" y="373.75" width="40.75" height="9.25" rx="4.625" stroke="#303030" stroke-width="1.2" fill="none"/>
<rect x="286.5" y="373" width="97.25" height="10.75" rx="5.375" stroke="#303030" stroke-width="1.2" fill="none"/>
<line x1="112.5" y1="383" x2="112.5" y2="450" stroke="#6a6a6a" stroke-width="0.6" />
<line x1="284.5" y1="402.25" x2="284.5" y2="450" stroke="#6a6a6a" stroke-width="0.6" />
<line x1="71.75" y1="446.25" x2="112.5" y2="446.25" stroke="#6a6a6a" stroke-width="0.6" />
<polygon points="71.75,446.25 77.55,444.90 77.55,447.60" fill="#222"/>
<polygon points="112.50,446.25 106.70,447.60 106.70,444.90" fill="#222"/>
<text x="93.75" y="443.5" font-size="8.5" font-style="italic" text-anchor="middle" fill="#222" stroke="#222" stroke-width="0.2" font-weight="normal">36</text>
<line x1="112.5" y1="446.25" x2="284.5" y2="446.25" stroke="#6a6a6a" stroke-width="0.6" />
<polygon points="112.50,446.25 118.30,444.90 118.30,447.60" fill="#222"/>
<polygon points="284.50,446.25 278.70,447.60 278.70,444.90" fill="#222"/>
<text x="200.75" y="443.5" font-size="8.5" font-style="italic" text-anchor="middle" fill="#222" stroke="#222" stroke-width="0.2" font-weight="normal">142</text>
<line x1="284.5" y1="446.25" x2="403" y2="446.25" stroke="#6a6a6a" stroke-width="0.6" />
<polygon points="284.50,446.25 290.30,444.90 290.30,447.60" fill="#222"/>
<polygon points="403.00,446.25 397.20,447.60 397.20,444.90" fill="#222"/>
<text x="345.75" y="443.5" font-size="8.5" font-style="italic" text-anchor="middle" fill="#222" stroke="#222" stroke-width="0.2" font-weight="normal">100</text>
<line x1="72" y1="478" x2="90" y2="478" stroke="#888" stroke-width="0.6" />
<polygon points="90.00,478.00 82.50,479.50 82.50,476.50" fill="#222"/>
<line x1="90" y1="467.5" x2="90" y2="482" stroke="#303030" stroke-width="1.9" />
<text x="77.25" y="492.5" font-size="11" font-style="normal" text-anchor="middle" fill="#222" stroke="#222" stroke-width="0.3" font-weight="normal">G</text>
<line x1="317.5" y1="478" x2="335.5" y2="478" stroke="#888" stroke-width="0.6" />
<polygon points="335.50,478.00 328.00,479.50 328.00,476.50" fill="#222"/>
<line x1="335.5" y1="467.5" x2="335.5" y2="482" stroke="#303030" stroke-width="1.9" />
<text x="323" y="492.5" font-size="11" font-style="normal" text-anchor="middle" fill="#222" stroke="#222" stroke-width="0.3" font-weight="normal">E</text>
<line x1="317.75" y1="308.25" x2="335.75" y2="308.25" stroke="#888" stroke-width="0.6" />
<polygon points="335.75,308.25 328.25,309.75 328.25,306.75" fill="#222"/>
<line x1="335.75" y1="305" x2="335.75" y2="320.5" stroke="#303030" stroke-width="1.9" />
<text x="323.5" y="306.6" font-size="11" font-style="normal" text-anchor="middle" fill="#222" stroke="#222" stroke-width="0.3" font-weight="normal">E</text>
<path d="M202,350 L204.5,353.75 L208.25,342 L234.5,342" stroke="#6a6a6a" stroke-width="0.6" fill="none" />
<text x="224.5" y="352" font-size="8.5" font-style="italic" text-anchor="middle" fill="#222" stroke="#222" stroke-width="0.2" font-weight="normal">Ra0.8</text>
<line x1="208.25" y1="353.75" x2="208.25" y2="402.25" stroke="#6a6a6a" stroke-width="0.6" />
<polygon points="208.25,353.75 209.60,359.55 206.90,359.55" fill="#222"/>
<polygon points="208.25,402.25 206.90,396.45 209.60,396.45" fill="#222"/>
<text x="206" y="374" font-size="8.5" font-style="italic" text-anchor="middle" fill="#222" stroke="#222" stroke-width="0.2" font-weight="normal" transform="rotate(-90 206 374)">∅40 k6</text>
<text x="308.5" y="337.5" font-size="8.5" font-style="italic" text-anchor="middle" fill="#222" stroke="#222" stroke-width="0.2" font-weight="normal">R 2</text>
<line x1="300" y1="338.75" x2="318" y2="338.75" stroke="#6a6a6a" stroke-width="0.6" />
<line x1="300" y1="338.75" x2="285.75" y2="356.25" stroke="#6a6a6a" stroke-width="0.6" />
<polygon points="285.75,356.25 288.12,351.71 289.81,353.13" fill="#222"/>
<path d="M321,352 L323.25,356.25 L327,343.75 L353.25,343.75" stroke="#6a6a6a" stroke-width="0.6" fill="none" />
<text x="344.5" y="355" font-size="8.5" font-style="italic" text-anchor="middle" fill="#222" stroke="#222" stroke-width="0.2" font-weight="normal">Ra0.8</text>
<line x1="360.75" y1="357" x2="360.75" y2="399.25" stroke="#6a6a6a" stroke-width="0.6" />
<polygon points="360.75,357.00 362.10,362.80 359.40,362.80" fill="#222"/>
<polygon points="360.75,399.25 359.40,393.45 362.10,393.45" fill="#222"/>
<text x="358.5" y="377.5" font-size="8.5" font-style="italic" text-anchor="middle" fill="#222" stroke="#222" stroke-width="0.2" font-weight="normal" transform="rotate(-90 358.5 377.5)">∅35 r6</text>
<rect x="204.5" y="413.75" width="36.25" height="12.00" rx="0" stroke="#777" stroke-width="0.6" fill="none"/>
<line x1="216.25" y1="413.75" x2="216.25" y2="425.75" stroke="#777" stroke-width="0.6" />
<circle cx="210.4" cy="419.75" r="4.3" stroke="#555" stroke-width="0.6" fill="none"/>
<text x="228.5" y="423.5" font-size="8.5" font-style="italic" text-anchor="middle" fill="#222" stroke="#222" stroke-width="0.2" font-weight="normal">0.004</text>
<line x1="204.5" y1="413.75" x2="204.5" y2="403" stroke="#6a6a6a" stroke-width="0.6" />
<polygon points="204.50,402.25 205.60,407.25 203.40,407.25" fill="#222"/>
<rect x="316.25" y="412" width="44.50" height="12.25" rx="0" stroke="#777" stroke-width="0.6" fill="none"/>
<line x1="328.25" y1="412" x2="328.25" y2="424.25" stroke="#777" stroke-width="0.6" />
<line x1="349" y1="412" x2="349" y2="424.25" stroke="#777" stroke-width="0.6" />
<line x1="325.75" y1="414" x2="318.75" y2="422.25" stroke="#444" stroke-width="0.7" />
<text x="338.625" y="421.95" font-size="8.5" font-style="italic" text-anchor="middle" fill="#222" stroke="#222" stroke-width="0.2" font-weight="normal">0.03</text>
<text x="354.875" y="421.95" font-size="8.5" font-style="italic" text-anchor="middle" fill="#222" stroke="#222" stroke-width="0.2" font-weight="normal">K</text>
<line x1="316.25" y1="412" x2="316.25" y2="400" stroke="#6a6a6a" stroke-width="0.6" />
<polygon points="316.25,399.25 317.35,404.25 315.15,404.25" fill="#222"/>
<text x="423" y="423.5" font-size="8.5" font-style="italic" text-anchor="middle" fill="#222" stroke="#222" stroke-width="0.2" font-weight="normal">2×45°</text>
<line x1="391.25" y1="425.75" x2="436.25" y2="425.75" stroke="#6a6a6a" stroke-width="0.6" />
<polygon points="398.50,425.75 393.50,426.85 393.50,424.65" fill="#222"/>
<polygon points="403.00,425.75 408.00,424.65 408.00,426.85" fill="#222"/>
<rect x="423.75" y="326.75" width="11.25" height="11.25" rx="0" stroke="#777" stroke-width="0.6" fill="none"/>
<text x="429.4" y="336" font-size="8.5" font-style="italic" text-anchor="middle" fill="#222" stroke="#222" stroke-width="0.2" font-weight="normal">K</text>
<line x1="429.4" y1="338" x2="429.4" y2="373" stroke="#6a6a6a" stroke-width="0.6" />
<polygon points="429.4,372.3 425.9,378.5 432.9,378.5" fill="#222"/>
<text x="554" y="245.5" font-size="8.5" font-style="normal" text-anchor="middle" fill="#333" stroke="#333" stroke-width="0.05" font-weight="normal">M (2:1)</text>
<path d="M508.3,277.6 L540.1,277.6 L544.3,280.7" stroke="#303030" stroke-width="1.3" fill="none" />
<line x1="508.5" y1="280.2" x2="540" y2="280.2" stroke="#aaa" stroke-width="0.6" />
<path d="M508.3,277.6 C508.5,283 511,288 513.5,291.7 C516,295 518,298 520.8,299 C523,300.5 525,301 527,301 C529,301 531,300 533.3,300 C536,300.5 538,302 541.1,304.2" stroke="#555" stroke-width="0.6" fill="none" />
<line x1="540.8" y1="277.6" x2="540.8" y2="304.2" stroke="#303030" stroke-width="1.0" />
<line x1="544.6" y1="280.7" x2="544.6" y2="304.2" stroke="#303030" stroke-width="1.4" />
<line x1="544.6" y1="281" x2="551.6" y2="281" stroke="#303030" stroke-width="1.3" />
<line x1="551.6" y1="272.4" x2="551.6" y2="304.2" stroke="#303030" stroke-width="1.4" />
<line x1="551.6" y1="272.4" x2="571.9" y2="272.4" stroke="#303030" stroke-width="1.3" />
<path d="M571.9,272.4 L571.9,289.6 C572,295 570,300 566,302.5 C562,304.5 556,304.5 551.6,304.2" stroke="#555" stroke-width="0.6" fill="none" />
<line x1="540.8" y1="304.2" x2="551.6" y2="304.2" stroke="#555" stroke-width="0.6" />
<line x1="551.6" y1="281" x2="607.5" y2="281" stroke="#6a6a6a" stroke-width="0.6" />
<line x1="551.6" y1="281.3" x2="586" y2="290.5" stroke="#6a6a6a" stroke-width="0.6" />
<line x1="519.3" y1="256.8" x2="544" y2="281" stroke="#6a6a6a" stroke-width="0.6" />
<line x1="511.5" y1="268" x2="511.5" y2="277.6" stroke="#6a6a6a" stroke-width="0.6" />
<polygon points="511.50,277.60 510.30,272.60 512.70,272.60" fill="#222"/>
<path d="M510,266 Q516,262 519,257" stroke="#6a6a6a" stroke-width="0.6" fill="none" />
<text x="513" y="262" font-size="8.5" font-style="italic" text-anchor="middle" fill="#222" stroke="#222" stroke-width="0.2" font-weight="normal" transform="rotate(-65 513 262)">450</text>
<text x="558.3" y="263.5" font-size="8.5" font-style="italic" text-anchor="middle" fill="#222" stroke="#222" stroke-width="0.2" font-weight="normal">R 1</text>
<line x1="548.4" y1="265.4" x2="564" y2="265.4" stroke="#6a6a6a" stroke-width="0.6" />
<line x1="548.4" y1="265.4" x2="546" y2="277" stroke="#6a6a6a" stroke-width="0.6" />
<polygon points="546.00,278.00 545.42,272.89 547.80,273.18" fill="#222"/>
<line x1="548.4" y1="265.4" x2="550" y2="278" stroke="#6a6a6a" stroke-width="0.6" />
<polygon points="550.20,279.00 548.40,274.18 550.78,273.89" fill="#222"/>
<line x1="586.9" y1="268" x2="586.9" y2="296" stroke="#6a6a6a" stroke-width="0.6" />
<polygon points="586.90,281.00 585.80,276.00 588.00,276.00" fill="#222"/>
<polygon points="586.90,290.50 588.00,295.50 585.80,295.50" fill="#222"/>
<text x="582" y="295" font-size="8.5" font-style="italic" text-anchor="middle" fill="#222" stroke="#222" stroke-width="0.2" font-weight="normal" transform="rotate(-65 582 295)">70</text>
<line x1="605.25" y1="281.6" x2="605.25" y2="340.6" stroke="#6a6a6a" stroke-width="0.6" />
<polygon points="605.25,281.60 606.35,286.60 604.15,286.60" fill="#222"/>
<text x="602.3" y="311.6" font-size="8.5" font-style="italic" text-anchor="middle" fill="#222" stroke="#222" stroke-width="0.2" font-weight="normal" transform="rotate(-90 602.3 311.6)">∅21,8</text>
<line x1="544.6" y1="304.2" x2="544.6" y2="320" stroke="#6a6a6a" stroke-width="0.6" />
<line x1="551.6" y1="304.2" x2="551.6" y2="320" stroke="#6a6a6a" stroke-width="0.6" />
<line x1="526.9" y1="317.2" x2="558.75" y2="317.2" stroke="#6a6a6a" stroke-width="0.6" />
<polygon points="544.60,317.20 539.60,318.30 539.60,316.10" fill="#222"/>
<polygon points="551.60,317.20 556.60,316.10 556.60,318.30" fill="#222"/>
<text x="535.7" y="315.5" font-size="8.5" font-style="italic" text-anchor="middle" fill="#222" stroke="#222" stroke-width="0.2" font-weight="normal">3</text>
<text x="694" y="249" font-size="8.5" font-style="normal" text-anchor="middle" fill="#333" stroke="#333" stroke-width="0.05" font-weight="normal">C (2:1)</text>
<line x1="661.8" y1="278.3" x2="691.7" y2="278.3" stroke="#303030" stroke-width="1.6" />
<path d="M661.8,278.3 C662,281 663,283 663.3,283.3 C665,286 667,289 668.5,289.6 C671,291 673,291.7 675.8,291.7 C678,291.7 680,291 682,291.1 C685,291.5 687,293 689.4,294.8" stroke="#555" stroke-width="0.6" fill="none" />
<line x1="691.7" y1="279.7" x2="691.7" y2="294.8" stroke="#303030" stroke-width="1.4" />
<line x1="699.3" y1="275" x2="699.3" y2="294.8" stroke="#303030" stroke-width="1.4" />
<line x1="691.7" y1="280.2" x2="699.3" y2="280.2" stroke="#303030" stroke-width="1.3" />
<line x1="699.3" y1="274.8" x2="713.9" y2="274.8" stroke="#303030" stroke-width="1.6" />
<path d="M713.9,274.8 C714.5,278 714.6,284 712.8,288.5 C711,291 709.5,292 708.1,292.7 C705,294 702,294.8 699.8,294.8" stroke="#555" stroke-width="0.6" fill="none" />
<line x1="699.3" y1="280.4" x2="732.1" y2="280.4" stroke="#6a6a6a" stroke-width="0.6" />
<line x1="699.3" y1="281.25" x2="732.1" y2="285.4" stroke="#6a6a6a" stroke-width="0.6" />
<line x1="729.8" y1="272.4" x2="729.8" y2="292" stroke="#6a6a6a" stroke-width="0.6" />
<polygon points="729.80,280.30 728.70,275.30 730.90,275.30" fill="#222"/>
<polygon points="729.80,285.30 730.90,290.30 728.70,290.30" fill="#222"/>
<text x="724" y="292" font-size="8.5" font-style="italic" text-anchor="middle" fill="#222" stroke="#222" stroke-width="0.2" font-weight="normal" transform="rotate(-65 724 292)">70</text>
<text x="702.1" y="262.7" font-size="8.5" font-style="italic" text-anchor="middle" fill="#222" stroke="#222" stroke-width="0.2" font-weight="normal">R1</text>
<line x1="694.6" y1="266.1" x2="707" y2="266.1" stroke="#6a6a6a" stroke-width="0.6" />
<line x1="694.6" y1="266.1" x2="693.2" y2="275" stroke="#6a6a6a" stroke-width="0.6" />
<polygon points="693.30,277.00 692.72,271.89 695.10,272.18" fill="#222"/>
<line x1="694.6" y1="266.1" x2="697" y2="276" stroke="#6a6a6a" stroke-width="0.6" />
<polygon points="697.20,278.00 694.99,273.36 697.33,272.86" fill="#222"/>
<line x1="691.7" y1="294.8" x2="691.7" y2="311" stroke="#6a6a6a" stroke-width="0.6" />
<line x1="699.3" y1="294.8" x2="699.3" y2="311" stroke="#6a6a6a" stroke-width="0.6" />
<line x1="675.3" y1="308.5" x2="706.6" y2="308.5" stroke="#6a6a6a" stroke-width="0.6" />
<polygon points="691.70,308.50 686.70,309.60 686.70,307.40" fill="#222"/>
<polygon points="699.30,308.50 704.30,307.40 704.30,309.60" fill="#222"/>
<text x="682.3" y="306.8" font-size="8.5" font-style="italic" text-anchor="middle" fill="#222" stroke="#222" stroke-width="0.2" font-weight="normal">3</text>
<text x="537.5" y="364.5" font-size="8.5" font-style="normal" text-anchor="middle" fill="#333" stroke="#333" stroke-width="0.05" font-weight="normal">D (2:1)</text>
<line x1="495" y1="395.7" x2="526.9" y2="395.7" stroke="#303030" stroke-width="1.2" />
<path d="M495,395.7 C497,406 510,414 526.9,416.9" stroke="#555" stroke-width="0.6" fill="none" />
<line x1="526.9" y1="395.7" x2="526.9" y2="416.9" stroke="#303030" stroke-width="1.3" />
<line x1="530.6" y1="399" x2="530.6" y2="416.9" stroke="#303030" stroke-width="1.3" />
<path d="M526.9,395.7 L530.6,400 L549.4,399" stroke="#303030" stroke-width="1.0" fill="none" />
<line x1="549.4" y1="393.4" x2="549.4" y2="416.9" stroke="#303030" stroke-width="1.3" />
<line x1="549.4" y1="393.4" x2="573.75" y2="393.4" stroke="#303030" stroke-width="1.2" />
<path d="M573.75,393.4 C576,402 574,412 566,415 C560,417 555,417 549.4,416.9" stroke="#555" stroke-width="0.6" fill="none" />
<line x1="530.6" y1="416.9" x2="549.4" y2="416.9" stroke="#6a6a6a" stroke-width="0.6" />
<line x1="549.4" y1="399.6" x2="591.6" y2="399.6" stroke="#6a6a6a" stroke-width="0.6" />
<line x1="549.4" y1="401" x2="588" y2="407" stroke="#6a6a6a" stroke-width="0.6" />
<line x1="588.75" y1="393.4" x2="588.75" y2="412.2" stroke="#6a6a6a" stroke-width="0.6" />
<polygon points="588.75,393.40 590.10,399.20 587.40,399.20" fill="#222"/>
<polygon points="588.75,412.20 587.40,406.40 590.10,406.40" fill="#222"/>
<text x="584" y="413" font-size="8.5" font-style="italic" text-anchor="middle" fill="#222" stroke="#222" stroke-width="0.2" font-weight="normal" transform="rotate(-75 584 413)">70</text>
<text x="548" y="381" font-size="8.5" font-style="italic" text-anchor="middle" fill="#222" stroke="#222" stroke-width="0.2" font-weight="normal">R1</text>
<line x1="540" y1="383.5" x2="553" y2="383.5" stroke="#6a6a6a" stroke-width="0.6" />
<line x1="540" y1="383.5" x2="531.5" y2="398.5" stroke="#6a6a6a" stroke-width="0.6" />
<polygon points="531.50,399.00 532.35,394.97 534.15,395.84" fill="#222"/>
<line x1="540" y1="383.5" x2="548.5" y2="400" stroke="#6a6a6a" stroke-width="0.6" />
<polygon points="548.50,400.00 545.74,396.94 547.51,396.00" fill="#222"/>
<text x="721.5" y="360.5" font-size="8.5" font-style="normal" text-anchor="middle" fill="#333" stroke="#333" stroke-width="0.05" font-weight="normal">N (2:1)</text>
<line x1="670.9" y1="395.7" x2="710.6" y2="395.7" stroke="#303030" stroke-width="1.3" />
<path d="M670.9,395.7 C680,405 685,418 690,422 C695,424 702,422.5 710.6,422.5" stroke="#555" stroke-width="0.6" fill="none" />
<line x1="710.6" y1="395.7" x2="710.6" y2="422.5" stroke="#303030" stroke-width="1.3" />
<line x1="725.25" y1="395.7" x2="725.25" y2="422.5" stroke="#303030" stroke-width="1.3" />
<line x1="710.6" y1="407.1" x2="725.25" y2="407.1" stroke="#303030" stroke-width="1.3" />
<line x1="725.25" y1="395.7" x2="748.7" y2="395.7" stroke="#303030" stroke-width="1.3" />
<path d="M748.7,395.7 C750,405 744,416 733,420 C729,422 727,422.5 725.25,422.5" stroke="#555" stroke-width="0.6" fill="none" />
<line x1="748.7" y1="395.7" x2="765" y2="395.7" stroke="#6a6a6a" stroke-width="0.6" />
<line x1="725.25" y1="407.1" x2="765" y2="407.1" stroke="#6a6a6a" stroke-width="0.6" />
<line x1="763.7" y1="389" x2="763.7" y2="415" stroke="#6a6a6a" stroke-width="0.6" />
<polygon points="763.70,395.70 762.60,390.70 764.80,390.70" fill="#222"/>
<polygon points="763.70,407.10 764.80,412.10 762.60,412.10" fill="#222"/>
<text x="761.5" y="401.5" font-size="8.5" font-style="italic" text-anchor="middle" fill="#222" stroke="#222" stroke-width="0.2" font-weight="normal" transform="rotate(-90 761.5 401.5)">5</text>
<text x="727.5" y="378" font-size="8.5" font-style="italic" text-anchor="middle" fill="#222" stroke="#222" stroke-width="0.2" font-weight="normal">R2</text>
<line x1="719.6" y1="380.3" x2="733.7" y2="380.3" stroke="#6a6a6a" stroke-width="0.6" />
<line x1="719.6" y1="380.3" x2="712" y2="404" stroke="#6a6a6a" stroke-width="0.6" />
<polygon points="711.50,406.00 711.79,401.89 713.69,402.50" fill="#222"/>
<line x1="719.6" y1="380.3" x2="725" y2="404" stroke="#6a6a6a" stroke-width="0.6" />
<polygon points="725.00,406.00 723.19,402.30 725.15,401.88" fill="#222"/>
<line x1="710.6" y1="422.5" x2="710.6" y2="440" stroke="#6a6a6a" stroke-width="0.6" />
<line x1="725.25" y1="422.5" x2="725.25" y2="440" stroke="#6a6a6a" stroke-width="0.6" />
<line x1="710.6" y1="437.5" x2="725.25" y2="437.5" stroke="#6a6a6a" stroke-width="0.6" />
<polygon points="710.60,437.50 716.40,436.15 716.40,438.85" fill="#222"/>
<polygon points="725.25,437.50 719.45,438.85 719.45,436.15" fill="#222"/>
<text x="718.7" y="436" font-size="8.5" font-style="italic" text-anchor="middle" fill="#222" stroke="#222" stroke-width="0.2" font-weight="normal">6</text>
<clipPath id="c71"><path d="M85.47,568 A14.8,14.8 0 1 0 85.47,577.8 L82.2,577.8 Q80.4,572.9 82.2,568 Z"/></clipPath>
<path d="M-24.5,612.9 L55.5,532.9 M-18.9,612.9 L61.1,532.9 M-13.299999999999997,612.9 L66.7,532.9 M-7.699999999999996,612.9 L72.30000000000001,532.9 M-2.0999999999999943,612.9 L77.9,532.9 M3.5,612.9 L83.5,532.9 M9.100000000000001,612.9 L89.1,532.9 M14.700000000000003,612.9 L94.7,532.9 M20.3,612.9 L100.3,532.9 M25.9,612.9 L105.9,532.9 M31.5,612.9 L111.5,532.9 M37.1,612.9 L117.1,532.9 M42.7,612.9 L122.7,532.9 M48.3,612.9 L128.3,532.9 M53.9,612.9 L133.9,532.9 M59.5,612.9 L139.5,532.9 M65.1,612.9 L145.1,532.9 M70.69999999999999,612.9 L150.7,532.9 M76.3,612.9 L156.3,532.9 M81.9,612.9 L161.9,532.9 M87.5,612.9 L167.5,532.9" stroke="#555" stroke-width="0.65" clip-path="url(#c71)"/>
<path d="M85.47,568 A14.8,14.8 0 1 0 85.47,577.8 L82.2,577.8 Q80.4,572.9 82.2,568 Z" stroke="#303030" stroke-width="1.15" fill="none" />
<line x1="52.7" y1="572.9" x2="90.3" y2="572.9" stroke="#8a8a8a" stroke-width="0.5" stroke-dasharray="9 2 1.5 2"/>
<line x1="71.5" y1="556.1" x2="71.5" y2="590.6999999999999" stroke="#8a8a8a" stroke-width="0.5" stroke-dasharray="9 2 1.5 2"/>
<text x="70.6" y="539" font-size="12.5" font-style="italic" text-anchor="middle" fill="#222" stroke="#222" stroke-width="0.2" font-weight="normal">B-B</text>
<rect x="97.8" y="515" width="49.40" height="24.00" rx="0" stroke="#777" stroke-width="0.6" fill="none"/>
<line x1="97.8" y1="527.0" x2="134.7" y2="527.0" stroke="#777" stroke-width="0.6" />
<line x1="110.6" y1="515" x2="110.6" y2="539" stroke="#777" stroke-width="0.6" />
<line x1="134.7" y1="515" x2="134.7" y2="539" stroke="#777" stroke-width="0.6" />
<line x1="99.3" y1="526.0" x2="104.3" y2="516.2" stroke="#555" stroke-width="0.8" />
<line x1="103.8" y1="526.0" x2="108.8" y2="516.2" stroke="#555" stroke-width="0.8" />
<line x1="101.3" y1="530.2" x2="107.3" y2="530.2" stroke="#888" stroke-width="0.6" />
<line x1="100.3" y1="532.8" x2="108.3" y2="532.8" stroke="#888" stroke-width="0.6" />
<line x1="101.3" y1="535.4" x2="107.3" y2="535.4" stroke="#888" stroke-width="0.6" />
<text x="122.64999999999999" y="525.0" font-size="8.5" font-style="italic" text-anchor="middle" fill="#222" stroke="#222" stroke-width="0.2" font-weight="normal">0,007</text>
<text x="124.64999999999999" y="536.8" font-size="8.5" font-style="italic" text-anchor="middle" fill="#222" stroke="#222" stroke-width="0.2" font-weight="normal">0,12</text>
<text x="140.95" y="530.0" font-size="8.5" font-style="italic" text-anchor="middle" fill="#222" stroke="#222" stroke-width="0.2" font-weight="normal">K</text>
<line x1="82.2" y1="568" x2="99.8" y2="568" stroke="#6a6a6a" stroke-width="0.6" />
<line x1="84.2" y1="577.8" x2="99.8" y2="577.8" stroke="#6a6a6a" stroke-width="0.6" />
<line x1="97.8" y1="539" x2="97.8" y2="583.7" stroke="#6a6a6a" stroke-width="0.6" />
<polygon points="97.80,568.00 96.70,563.00 98.90,563.00" fill="#222"/>
<polygon points="97.80,577.80 98.90,582.80 96.70,582.80" fill="#222"/>
<text x="95.3" y="550" font-size="8.5" font-style="italic" text-anchor="middle" fill="#222" stroke="#222" stroke-width="0.2" font-weight="normal" transform="rotate(-90 95.3 550)">8 h12</text>
<line x1="56.7" y1="572.9" x2="56.7" y2="605.8" stroke="#6a6a6a" stroke-width="0.6" />
<line x1="80.8" y1="579.8" x2="80.8" y2="605.8" stroke="#6a6a6a" stroke-width="0.6" />
<line x1="56.7" y1="602.8" x2="80.8" y2="602.8" stroke="#6a6a6a" stroke-width="0.6" />
<polygon points="56.70,602.80 62.50,601.45 62.50,604.15" fill="#222"/>
<polygon points="80.80,602.80 75.00,604.15 75.00,601.45" fill="#222"/>
<text x="68.75" y="600.3" font-size="8.5" font-style="italic" text-anchor="middle" fill="#222" stroke="#222" stroke-width="0.2" font-weight="normal">20</text>
<path d="M82.5,584.8 L84.5,588.8 L92.5,599.8 L92.5,621.8" stroke="#6a6a6a" stroke-width="0.6" fill="none" />
<text x="87.5" y="604.8" font-size="8.5" font-style="italic" text-anchor="middle" fill="#222" stroke="#222" stroke-width="0.2" font-weight="normal" transform="rotate(-90 87.5 604.8)">Ra6,3</text>
<clipPath id="c179"><path d="M194.34,568 A15.6,15.6 0 1 0 194.00,578 L194,578 Q192.2,573.0 194,568 Z"/></clipPath>
<path d="M83.4,612.5 L163.4,532.5 M89.0,612.5 L169.0,532.5 M94.60000000000001,612.5 L174.60000000000002,532.5 M100.20000000000002,612.5 L180.20000000000002,532.5 M105.80000000000001,612.5 L185.8,532.5 M111.4,612.5 L191.4,532.5 M117.0,612.5 L197.0,532.5 M122.60000000000001,612.5 L202.60000000000002,532.5 M128.20000000000002,612.5 L208.20000000000002,532.5 M133.8,612.5 L213.8,532.5 M139.4,612.5 L219.4,532.5 M145.0,612.5 L225.0,532.5 M150.6,612.5 L230.6,532.5 M156.2,612.5 L236.2,532.5 M161.8,612.5 L241.8,532.5 M167.4,612.5 L247.4,532.5 M173.0,612.5 L253.0,532.5 M178.6,612.5 L258.6,532.5 M184.2,612.5 L264.2,532.5 M189.8,612.5 L269.8,532.5 M195.4,612.5 L275.4,532.5" stroke="#555" stroke-width="0.65" clip-path="url(#c179)"/>
<path d="M194.34,568 A15.6,15.6 0 1 0 194.00,578 L194,578 Q192.2,573.0 194,568 Z" stroke="#303030" stroke-width="1.15" fill="none" />
<line x1="159.8" y1="572.5" x2="199.0" y2="572.5" stroke="#8a8a8a" stroke-width="0.5" stroke-dasharray="9 2 1.5 2"/>
<line x1="179.4" y1="554.9" x2="179.4" y2="591.1" stroke="#8a8a8a" stroke-width="0.5" stroke-dasharray="9 2 1.5 2"/>
<text x="183.5" y="539" font-size="12.5" font-style="italic" text-anchor="middle" fill="#222" stroke="#222" stroke-width="0.2" font-weight="normal">C-C</text>
<rect x="210.3" y="515.6" width="49.40" height="25.00" rx="0" stroke="#777" stroke-width="0.6" fill="none"/>
<line x1="210.3" y1="528.1" x2="247.2" y2="528.1" stroke="#777" stroke-width="0.6" />
<line x1="223.10000000000002" y1="515.6" x2="223.10000000000002" y2="540.6" stroke="#777" stroke-width="0.6" />
<line x1="247.2" y1="515.6" x2="247.2" y2="540.6" stroke="#777" stroke-width="0.6" />
<line x1="211.8" y1="527.1" x2="216.8" y2="516.8000000000001" stroke="#555" stroke-width="0.8" />
<line x1="216.3" y1="527.1" x2="221.3" y2="516.8000000000001" stroke="#555" stroke-width="0.8" />
<line x1="213.8" y1="531.3000000000001" x2="219.8" y2="531.3000000000001" stroke="#888" stroke-width="0.6" />
<line x1="212.8" y1="533.9" x2="220.8" y2="533.9" stroke="#888" stroke-width="0.6" />
<line x1="213.8" y1="536.5" x2="219.8" y2="536.5" stroke="#888" stroke-width="0.6" />
<text x="235.15" y="526.1" font-size="8.5" font-style="italic" text-anchor="middle" fill="#222" stroke="#222" stroke-width="0.2" font-weight="normal">0,007</text>
<text x="237.15" y="538.4" font-size="8.5" font-style="italic" text-anchor="middle" fill="#222" stroke="#222" stroke-width="0.2" font-weight="normal">0,12</text>
<text x="253.45" y="531.1" font-size="8.5" font-style="italic" text-anchor="middle" fill="#222" stroke="#222" stroke-width="0.2" font-weight="normal">K</text>
<line x1="194" y1="568" x2="212.3" y2="568" stroke="#6a6a6a" stroke-width="0.6" />
<line x1="196" y1="578" x2="212.3" y2="578" stroke="#6a6a6a" stroke-width="0.6" />
<line x1="210.3" y1="540.6" x2="210.3" y2="583.7" stroke="#6a6a6a" stroke-width="0.6" />
<polygon points="210.30,568.00 209.20,563.00 211.40,563.00" fill="#222"/>
<polygon points="210.30,578.00 211.40,583.00 209.20,583.00" fill="#222"/>
<text x="207.8" y="552" font-size="8.5" font-style="italic" text-anchor="middle" fill="#222" stroke="#222" stroke-width="0.2" font-weight="normal" transform="rotate(-90 207.8 552)">8 H11</text>
<line x1="164.4" y1="572.5" x2="164.4" y2="607.7" stroke="#6a6a6a" stroke-width="0.6" />
<line x1="191.9" y1="580" x2="191.9" y2="607.7" stroke="#6a6a6a" stroke-width="0.6" />
<line x1="164.4" y1="604.7" x2="191.9" y2="604.7" stroke="#6a6a6a" stroke-width="0.6" />
<polygon points="164.40,604.70 170.20,603.35 170.20,606.05" fill="#222"/>
<polygon points="191.90,604.70 186.10,606.05 186.10,603.35" fill="#222"/>
<text x="178.15" y="602.2" font-size="8.5" font-style="italic" text-anchor="middle" fill="#222" stroke="#222" stroke-width="0.2" font-weight="normal">23,5</text>
<path d="M193.75,585 L195.75,589 L203.75,600 L203.75,622" stroke="#6a6a6a" stroke-width="0.6" fill="none" />
<text x="198.75" y="605" font-size="8.5" font-style="italic" text-anchor="middle" fill="#222" stroke="#222" stroke-width="0.2" font-weight="normal" transform="rotate(-90 198.75 605)">Ra6,3</text>
<clipPath id="c346"><path d="M367.42,567.2 A21.9,21.9 0 1 0 367.50,578.1 L365.6,578.1 Q363.8,572.6500000000001 365.6,567.2 Z"/></clipPath>
<path d="M250.25,612.8 L330.25,532.8 M255.85,612.8 L335.85,532.8 M261.45,612.8 L341.45,532.8 M267.05,612.8 L347.05,532.8 M272.65,612.8 L352.65,532.8 M278.25,612.8 L358.25,532.8 M283.85,612.8 L363.85,532.8 M289.45,612.8 L369.45,532.8 M295.05,612.8 L375.05,532.8 M300.65,612.8 L380.65,532.8 M306.25,612.8 L386.25,532.8 M311.85,612.8 L391.85,532.8 M317.45,612.8 L397.45,532.8 M323.05,612.8 L403.05,532.8 M328.65,612.8 L408.65,532.8 M334.25,612.8 L414.25,532.8 M339.85,612.8 L419.85,532.8 M345.45,612.8 L425.45,532.8 M351.05,612.8 L431.05,532.8 M356.65,612.8 L436.65,532.8 M362.25,612.8 L442.25,532.8" stroke="#555" stroke-width="0.65" clip-path="url(#c346)"/>
<path d="M367.42,567.2 A21.9,21.9 0 1 0 367.50,578.1 L365.6,578.1 Q363.8,572.6500000000001 365.6,567.2 Z" stroke="#303030" stroke-width="1.15" fill="none" />
<line x1="320.35" y1="572.8" x2="372.15" y2="572.8" stroke="#8a8a8a" stroke-width="0.5" stroke-dasharray="9 2 1.5 2"/>
<line x1="346.25" y1="548.9" x2="346.25" y2="597.6999999999999" stroke="#8a8a8a" stroke-width="0.5" stroke-dasharray="9 2 1.5 2"/>
<text x="348.75" y="533" font-size="12.5" font-style="italic" text-anchor="middle" fill="#222" stroke="#222" stroke-width="0.2" font-weight="normal">G-G</text>
<rect x="388.4" y="515.6" width="48.50" height="24.40" rx="0" stroke="#777" stroke-width="0.6" fill="none"/>
<line x1="388.4" y1="527.8" x2="424.4" y2="527.8" stroke="#777" stroke-width="0.6" />
<line x1="401.2" y1="515.6" x2="401.2" y2="540" stroke="#777" stroke-width="0.6" />
<line x1="424.4" y1="515.6" x2="424.4" y2="540" stroke="#777" stroke-width="0.6" />
<line x1="389.9" y1="526.8" x2="394.9" y2="516.8000000000001" stroke="#555" stroke-width="0.8" />
<line x1="394.4" y1="526.8" x2="399.4" y2="516.8000000000001" stroke="#555" stroke-width="0.8" />
<line x1="391.9" y1="531.0" x2="397.9" y2="531.0" stroke="#888" stroke-width="0.6" />
<line x1="390.9" y1="533.5999999999999" x2="398.9" y2="533.5999999999999" stroke="#888" stroke-width="0.6" />
<line x1="391.9" y1="536.1999999999999" x2="397.9" y2="536.1999999999999" stroke="#888" stroke-width="0.6" />
<text x="412.79999999999995" y="525.8" font-size="8.5" font-style="italic" text-anchor="middle" fill="#222" stroke="#222" stroke-width="0.2" font-weight="normal">0,007</text>
<text x="414.79999999999995" y="537.8" font-size="8.5" font-style="italic" text-anchor="middle" fill="#222" stroke="#222" stroke-width="0.2" font-weight="normal">0,12</text>
<text x="430.65" y="530.8" font-size="8.5" font-style="italic" text-anchor="middle" fill="#222" stroke="#222" stroke-width="0.2" font-weight="normal">K</text>
<line x1="365.6" y1="567.2" x2="390.4" y2="567.2" stroke="#6a6a6a" stroke-width="0.6" />
<line x1="367.6" y1="578.1" x2="390.4" y2="578.1" stroke="#6a6a6a" stroke-width="0.6" />
<line x1="388.4" y1="540" x2="388.4" y2="583.7" stroke="#6a6a6a" stroke-width="0.6" />
<polygon points="388.40,567.20 387.30,562.20 389.50,562.20" fill="#222"/>
<polygon points="388.40,578.10 389.50,583.10 387.30,583.10" fill="#222"/>
<text x="385.9" y="550" font-size="8.5" font-style="italic" text-anchor="middle" fill="#222" stroke="#222" stroke-width="0.2" font-weight="normal" transform="rotate(-90 385.9 550)">8 H11</text>
<line x1="324.4" y1="572.8" x2="324.4" y2="615.5" stroke="#6a6a6a" stroke-width="0.6" />
<line x1="366.25" y1="580.1" x2="366.25" y2="615.5" stroke="#6a6a6a" stroke-width="0.6" />
<line x1="324.4" y1="612.5" x2="366.25" y2="612.5" stroke="#6a6a6a" stroke-width="0.6" />
<polygon points="324.40,612.50 330.20,611.15 330.20,613.85" fill="#222"/>
<polygon points="366.25,612.50 360.45,613.85 360.45,611.15" fill="#222"/>
<text x="345.325" y="610.0" font-size="8.5" font-style="italic" text-anchor="middle" fill="#222" stroke="#222" stroke-width="0.2" font-weight="normal">32,5</text>
<path d="M365.3,585.1 L367.3,589.1 L375.3,600.1 L375.3,622.1" stroke="#6a6a6a" stroke-width="0.6" fill="none" />
<text x="370.3" y="605.1" font-size="8.5" font-style="italic" text-anchor="middle" fill="#222" stroke="#222" stroke-width="0.2" font-weight="normal" transform="rotate(-90 370.3 605.1)">Ra6,3</text>
<clipPath id="c476"><path d="M500.35,567.2 A24.4,24.4 0 1 0 500.42,578.1 L499.4,578.1 Q497.59999999999997,572.6500000000001 499.4,567.2 Z"/></clipPath>
<path d="M380.6,612.8 L460.6,532.8 M386.20000000000005,612.8 L466.20000000000005,532.8 M391.8,612.8 L471.8,532.8 M397.40000000000003,612.8 L477.40000000000003,532.8 M403.0,612.8 L483.0,532.8 M408.6,612.8 L488.6,532.8 M414.20000000000005,612.8 L494.20000000000005,532.8 M419.8,612.8 L499.8,532.8 M425.40000000000003,612.8 L505.40000000000003,532.8 M431.0,612.8 L511.0,532.8 M436.6,612.8 L516.6,532.8 M442.20000000000005,612.8 L522.2,532.8 M447.8,612.8 L527.8000000000001,532.8 M453.40000000000003,612.8 L533.4,532.8 M459.0,612.8 L539.0,532.8 M464.6,612.8 L544.6,532.8 M470.20000000000005,612.8 L550.2,532.8 M475.8,612.8 L555.8000000000001,532.8 M481.40000000000003,612.8 L561.4,532.8 M487.0,612.8 L567.0,532.8 M492.6,612.8 L572.6,532.8" stroke="#555" stroke-width="0.65" clip-path="url(#c476)"/>
<path d="M500.35,567.2 A24.4,24.4 0 1 0 500.42,578.1 L499.4,578.1 Q497.59999999999997,572.6500000000001 499.4,567.2 Z" stroke="#303030" stroke-width="1.15" fill="none" />
<line x1="448.20000000000005" y1="572.8" x2="505.0" y2="572.8" stroke="#8a8a8a" stroke-width="0.5" stroke-dasharray="9 2 1.5 2"/>
<line x1="476.6" y1="546.4" x2="476.6" y2="600.1999999999999" stroke="#8a8a8a" stroke-width="0.5" stroke-dasharray="9 2 1.5 2"/>
<text x="478.9" y="533" font-size="12.5" font-style="italic" text-anchor="middle" fill="#222" stroke="#222" stroke-width="0.2" font-weight="normal">G-G</text>
<rect x="519.5" y="515.6" width="49.10" height="24.40" rx="0" stroke="#777" stroke-width="0.6" fill="none"/>
<line x1="519.5" y1="527.8" x2="556.1" y2="527.8" stroke="#777" stroke-width="0.6" />
<line x1="532.3" y1="515.6" x2="532.3" y2="540" stroke="#777" stroke-width="0.6" />
<line x1="556.1" y1="515.6" x2="556.1" y2="540" stroke="#777" stroke-width="0.6" />
<line x1="521.0" y1="526.8" x2="526.0" y2="516.8000000000001" stroke="#555" stroke-width="0.8" />
<line x1="525.5" y1="526.8" x2="530.5" y2="516.8000000000001" stroke="#555" stroke-width="0.8" />
<line x1="523.0" y1="531.0" x2="529.0" y2="531.0" stroke="#888" stroke-width="0.6" />
<line x1="522.0" y1="533.5999999999999" x2="530.0" y2="533.5999999999999" stroke="#888" stroke-width="0.6" />
<line x1="523.0" y1="536.1999999999999" x2="529.0" y2="536.1999999999999" stroke="#888" stroke-width="0.6" />
<text x="544.2" y="525.8" font-size="8.5" font-style="italic" text-anchor="middle" fill="#222" stroke="#222" stroke-width="0.2" font-weight="normal">0,007</text>
<text x="546.2" y="537.8" font-size="8.5" font-style="italic" text-anchor="middle" fill="#222" stroke="#222" stroke-width="0.2" font-weight="normal">0,12</text>
<text x="562.35" y="530.8" font-size="8.5" font-style="italic" text-anchor="middle" fill="#222" stroke="#222" stroke-width="0.2" font-weight="normal">K</text>
<line x1="499.4" y1="567.2" x2="522.3" y2="567.2" stroke="#6a6a6a" stroke-width="0.6" />
<line x1="501.4" y1="578.1" x2="522.3" y2="578.1" stroke="#6a6a6a" stroke-width="0.6" />
<line x1="520.3" y1="540" x2="520.3" y2="583.7" stroke="#6a6a6a" stroke-width="0.6" />
<polygon points="520.30,567.20 519.20,562.20 521.40,562.20" fill="#222"/>
<polygon points="520.30,578.10 521.40,583.10 519.20,583.10" fill="#222"/>
<text x="517.8" y="550" font-size="8.5" font-style="italic" text-anchor="middle" fill="#222" stroke="#222" stroke-width="0.2" font-weight="normal" transform="rotate(-90 517.8 550)">8H11</text>
<line x1="452.2" y1="572.8" x2="452.2" y2="615.5" stroke="#6a6a6a" stroke-width="0.6" />
<line x1="500" y1="580.1" x2="500" y2="615.5" stroke="#6a6a6a" stroke-width="0.6" />
<line x1="452.2" y1="612.5" x2="500" y2="612.5" stroke="#6a6a6a" stroke-width="0.6" />
<polygon points="452.20,612.50 458.00,611.15 458.00,613.85" fill="#222"/>
<polygon points="500.00,612.50 494.20,613.85 494.20,611.15" fill="#222"/>
<text x="476.1" y="610.0" font-size="8.5" font-style="italic" text-anchor="middle" fill="#222" stroke="#222" stroke-width="0.2" font-weight="normal">37,5</text>
<path d="M498.1,585.1 L500.1,589.1 L508.1,600.1 L508.1,622.1" stroke="#6a6a6a" stroke-width="0.6" fill="none" />
<text x="503.1" y="605.1" font-size="8.5" font-style="italic" text-anchor="middle" fill="#222" stroke="#222" stroke-width="0.2" font-weight="normal" transform="rotate(-90 503.1 605.1)">Ra6,3</text>
<clipPath id="c618"><path d="M639.10,567.2 A21.25,21.25 0 1 0 639.18,578.1 L639,578.1 Q637.2,572.6500000000001 639,567.2 Z"/></clipPath>
<path d="M522.6,612.8 L602.6,532.8 M528.2,612.8 L608.2,532.8 M533.8000000000001,612.8 L613.8000000000001,532.8 M539.4,612.8 L619.4,532.8 M545.0,612.8 L625.0,532.8 M550.6,612.8 L630.6,532.8 M556.2,612.8 L636.2,532.8 M561.8000000000001,612.8 L641.8000000000001,532.8 M567.4,612.8 L647.4,532.8 M573.0,612.8 L653.0,532.8 M578.6,612.8 L658.6,532.8 M584.2,612.8 L664.2,532.8 M589.8000000000001,612.8 L669.8000000000001,532.8 M595.4,612.8 L675.4,532.8 M601.0,612.8 L681.0,532.8 M606.6,612.8 L686.6,532.8 M612.2,612.8 L692.2,532.8 M617.8000000000001,612.8 L697.8000000000001,532.8 M623.4,612.8 L703.4,532.8 M629.0,612.8 L709.0,532.8 M634.6,612.8 L714.6,532.8" stroke="#555" stroke-width="0.65" clip-path="url(#c618)"/>
<path d="M639.10,567.2 A21.25,21.25 0 1 0 639.18,578.1 L639,578.1 Q637.2,572.6500000000001 639,567.2 Z" stroke="#303030" stroke-width="1.15" fill="none" />
<line x1="593.35" y1="572.8" x2="643.85" y2="572.8" stroke="#8a8a8a" stroke-width="0.5" stroke-dasharray="9 2 1.5 2"/>
<line x1="618.6" y1="549.55" x2="618.6" y2="597.05" stroke="#8a8a8a" stroke-width="0.5" stroke-dasharray="9 2 1.5 2"/>
<text x="621.4" y="533" font-size="12.5" font-style="italic" text-anchor="middle" fill="#222" stroke="#222" stroke-width="0.2" font-weight="normal">E-E</text>
<rect x="661.4" y="515.6" width="48.80" height="24.40" rx="0" stroke="#777" stroke-width="0.6" fill="none"/>
<line x1="661.4" y1="527.8" x2="697.7" y2="527.8" stroke="#777" stroke-width="0.6" />
<line x1="674.1999999999999" y1="515.6" x2="674.1999999999999" y2="540" stroke="#777" stroke-width="0.6" />
<line x1="697.7" y1="515.6" x2="697.7" y2="540" stroke="#777" stroke-width="0.6" />
<line x1="662.9" y1="526.8" x2="667.9" y2="516.8000000000001" stroke="#555" stroke-width="0.8" />
<line x1="667.4" y1="526.8" x2="672.4" y2="516.8000000000001" stroke="#555" stroke-width="0.8" />
<line x1="664.9" y1="531.0" x2="670.9" y2="531.0" stroke="#888" stroke-width="0.6" />
<line x1="663.9" y1="533.5999999999999" x2="671.9" y2="533.5999999999999" stroke="#888" stroke-width="0.6" />
<line x1="664.9" y1="536.1999999999999" x2="670.9" y2="536.1999999999999" stroke="#888" stroke-width="0.6" />
<text x="685.95" y="525.8" font-size="8.5" font-style="italic" text-anchor="middle" fill="#222" stroke="#222" stroke-width="0.2" font-weight="normal">0,007</text>
<text x="687.95" y="537.8" font-size="8.5" font-style="italic" text-anchor="middle" fill="#222" stroke="#222" stroke-width="0.2" font-weight="normal">0,12</text>
<text x="703.95" y="530.8" font-size="8.5" font-style="italic" text-anchor="middle" fill="#222" stroke="#222" stroke-width="0.2" font-weight="normal">K</text>
<line x1="639" y1="567.2" x2="663.4" y2="567.2" stroke="#6a6a6a" stroke-width="0.6" />
<line x1="641" y1="578.1" x2="663.4" y2="578.1" stroke="#6a6a6a" stroke-width="0.6" />
<line x1="661.4" y1="540" x2="661.4" y2="583.7" stroke="#6a6a6a" stroke-width="0.6" />
<polygon points="661.40,567.20 660.30,562.20 662.50,562.20" fill="#222"/>
<polygon points="661.40,578.10 662.50,583.10 660.30,583.10" fill="#222"/>
<text x="658.9" y="546.5" font-size="8.5" font-style="italic" text-anchor="middle" fill="#222" stroke="#222" stroke-width="0.2" font-weight="normal" transform="rotate(-90 658.9 546.5)">8  H11</text>
<line x1="597.4" y1="572.8" x2="597.4" y2="615.5" stroke="#6a6a6a" stroke-width="0.6" />
<line x1="639" y1="580.1" x2="639" y2="615.5" stroke="#6a6a6a" stroke-width="0.6" />
<line x1="597.4" y1="612.5" x2="639" y2="612.5" stroke="#6a6a6a" stroke-width="0.6" />
<polygon points="597.40,612.50 603.20,611.15 603.20,613.85" fill="#222"/>
<polygon points="639.00,612.50 633.20,613.85 633.20,611.15" fill="#222"/>
<text x="618.2" y="610.0" font-size="8.5" font-style="italic" text-anchor="middle" fill="#222" stroke="#222" stroke-width="0.2" font-weight="normal">32,5</text>
<path d="M638,585.1 L640,589.1 L648,600.1 L648,622.1" stroke="#6a6a6a" stroke-width="0.6" fill="none" />
<text x="643" y="605.1" font-size="8.5" font-style="italic" text-anchor="middle" fill="#222" stroke="#222" stroke-width="0.2" font-weight="normal" transform="rotate(-90 643 605.1)">Ra6,3</text>
</svg></body></html>
